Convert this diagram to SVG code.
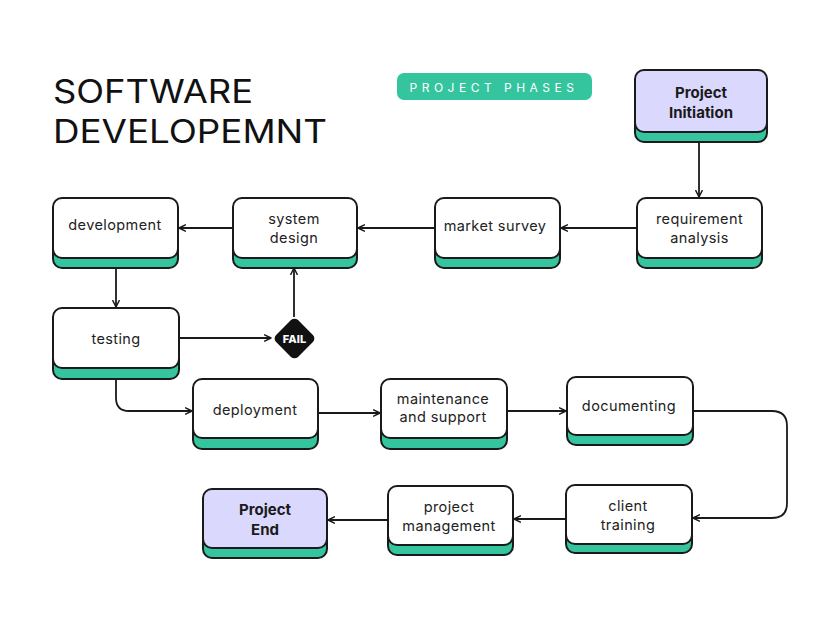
<svg xmlns="http://www.w3.org/2000/svg" width="818" height="623" viewBox="0 0 818 623">
  <defs>
    <marker id="arrow" viewBox="0 0 10 10" refX="9" refY="5" markerWidth="8" markerHeight="8" markerUnits="userSpaceOnUse" orient="auto">
      <path d="M1,1 L9,5 L1,9" fill="none" stroke="#1a1a1a" stroke-width="1.8" stroke-linejoin="round" stroke-linecap="round"/>
    </marker>
    <style>
      .base { fill: #34C49E; stroke: #1a1a1a; stroke-width: 2; }
      .card { fill: #ffffff; stroke: #1a1a1a; stroke-width: 2; }
      .card.start { fill: #DAD8FC; }
      .label { font-family: Inter, "Noto Sans", sans-serif; font-size: 14.5px; letter-spacing: 0.4px; fill: #222; text-anchor: middle; }
      .bold { font-family: Inter, "Noto Sans", sans-serif; font-size: 15px; font-weight: 700; fill: #1a1a1a; text-anchor: middle; }
      .conn { fill: none; stroke: #1a1a1a; stroke-width: 1.8; marker-end: url(#arrow); }
      .title { font-family: Inter, "Noto Sans", sans-serif; font-size: 32px; font-weight: 400; fill: #111; }
    </style>
  </defs>

  <rect width="818" height="623" fill="#ffffff"/>

  <!-- heading -->
  <g id="title">
    <text class="title" x="53" y="103" textLength="200" lengthAdjust="spacingAndGlyphs">SOFTWARE</text>
    <text class="title" x="53" y="143" textLength="274" lengthAdjust="spacingAndGlyphs">DEVELOPEMNT</text>
  </g>

  <g id="phases-badge">
    <rect x="397" y="73" width="195" height="27" rx="7" fill="#34C49E"/>
    <text x="494" y="91.5" font-family="Inter, 'Noto Sans', sans-serif" font-size="12" fill="#ffffff" text-anchor="middle" letter-spacing="4.5">PROJECT PHASES</text>
  </g>

  <!-- connectors -->
  <g id="connectors">
    <path class="conn" d="M699,142 V197"/>
    <path class="conn" d="M637,228 H561"/>
    <path class="conn" d="M435,228 H358"/>
    <path class="conn" d="M233,228 H179"/>
    <path class="conn" d="M116,267 V307"/>
    <path class="conn" d="M179,338 H271"/>
    <path class="conn" d="M294,317 V268"/>
    <path class="conn" d="M116,379 V398 Q116,411 129,411 H192"/>
    <path class="conn" d="M318,413 H380"/>
    <path class="conn" d="M507,411 H566"/>
    <path class="conn" d="M693,411 H772 Q787,411 787,426 V503 Q787,518 772,518 H693"/>
    <path class="conn" d="M566,519 H514"/>
    <path class="conn" d="M388,520 H328"/>
  </g>

  <!-- nodes -->
  <g id="project-initiation">
    <rect class="base" x="635" y="80" width="132" height="62" rx="9"/>
    <rect class="card start" x="635" y="70" width="132" height="62" rx="9"/>
    <text class="bold" x="701" y="98">Project</text>
    <text class="bold" x="701" y="118">Initiation</text>
  </g>

  <g id="requirement-analysis">
    <rect class="base" x="637" y="208" width="125" height="60" rx="9"/>
    <rect class="card" x="637" y="198" width="125" height="60" rx="9"/>
    <text class="label" x="699.5" y="224">requirement</text>
    <text class="label" x="699.5" y="243">analysis</text>
  </g>

  <g id="market-survey">
    <rect class="base" x="435" y="208" width="125" height="60" rx="9"/>
    <rect class="card" x="435" y="198" width="125" height="60" rx="9"/>
    <text class="label" x="495" y="231">market survey</text>
  </g>

  <g id="system-design">
    <rect class="base" x="233" y="208" width="124" height="60" rx="9"/>
    <rect class="card" x="233" y="198" width="124" height="60" rx="9"/>
    <text class="label" x="294" y="224">system</text>
    <text class="label" x="294" y="243">design</text>
  </g>

  <g id="development">
    <rect class="base" x="53" y="208" width="125" height="60" rx="9"/>
    <rect class="card" x="53" y="198" width="125" height="60" rx="9"/>
    <text class="label" x="115" y="230">development</text>
  </g>

  <g id="testing">
    <rect class="base" x="53" y="319" width="126" height="60" rx="9"/>
    <rect class="card" x="53" y="308" width="126" height="60" rx="9"/>
    <text class="label" x="116" y="344">testing</text>
  </g>

  <g id="fail">
    <rect x="279" y="323" width="31" height="31" rx="5" fill="#111" transform="rotate(45 294.5 338.5)"/>
    <text x="294.5" y="342.5" font-family="Inter, 'Noto Sans', sans-serif" font-size="11" font-weight="800" fill="#ffffff" text-anchor="middle">FAIL</text>
  </g>

  <g id="deployment">
    <rect class="base" x="193" y="390" width="125" height="59" rx="9"/>
    <rect class="card" x="193" y="379" width="125" height="59" rx="9"/>
    <text class="label" x="255" y="415">deployment</text>
  </g>

  <g id="maintenance-support">
    <rect class="base" x="381" y="390" width="126" height="59" rx="9"/>
    <rect class="card" x="381" y="379" width="126" height="59" rx="9"/>
    <text class="label" x="443" y="404">maintenance</text>
    <text class="label" x="443" y="422">and support</text>
  </g>

  <g id="documenting">
    <rect class="base" x="567" y="387" width="126" height="58" rx="9"/>
    <rect class="card" x="567" y="377" width="126" height="58" rx="9"/>
    <text class="label" x="629" y="411">documenting</text>
  </g>

  <g id="client-training">
    <rect class="base" x="566" y="494" width="126" height="59" rx="9"/>
    <rect class="card" x="566" y="485" width="126" height="59" rx="9"/>
    <text class="label" x="628" y="511">client</text>
    <text class="label" x="628" y="530">training</text>
  </g>

  <g id="project-management">
    <rect class="base" x="388" y="496" width="125" height="59" rx="9"/>
    <rect class="card" x="388" y="486" width="125" height="59" rx="9"/>
    <text class="label" x="449" y="512">project</text>
    <text class="label" x="449" y="531">management</text>
  </g>

  <g id="project-end">
    <rect class="base" x="203" y="499" width="124" height="59" rx="9"/>
    <rect class="card start" x="203" y="489" width="124" height="59" rx="9"/>
    <text class="bold" x="265" y="515">Project</text>
    <text class="bold" x="265" y="535">End</text>
  </g>
</svg>
